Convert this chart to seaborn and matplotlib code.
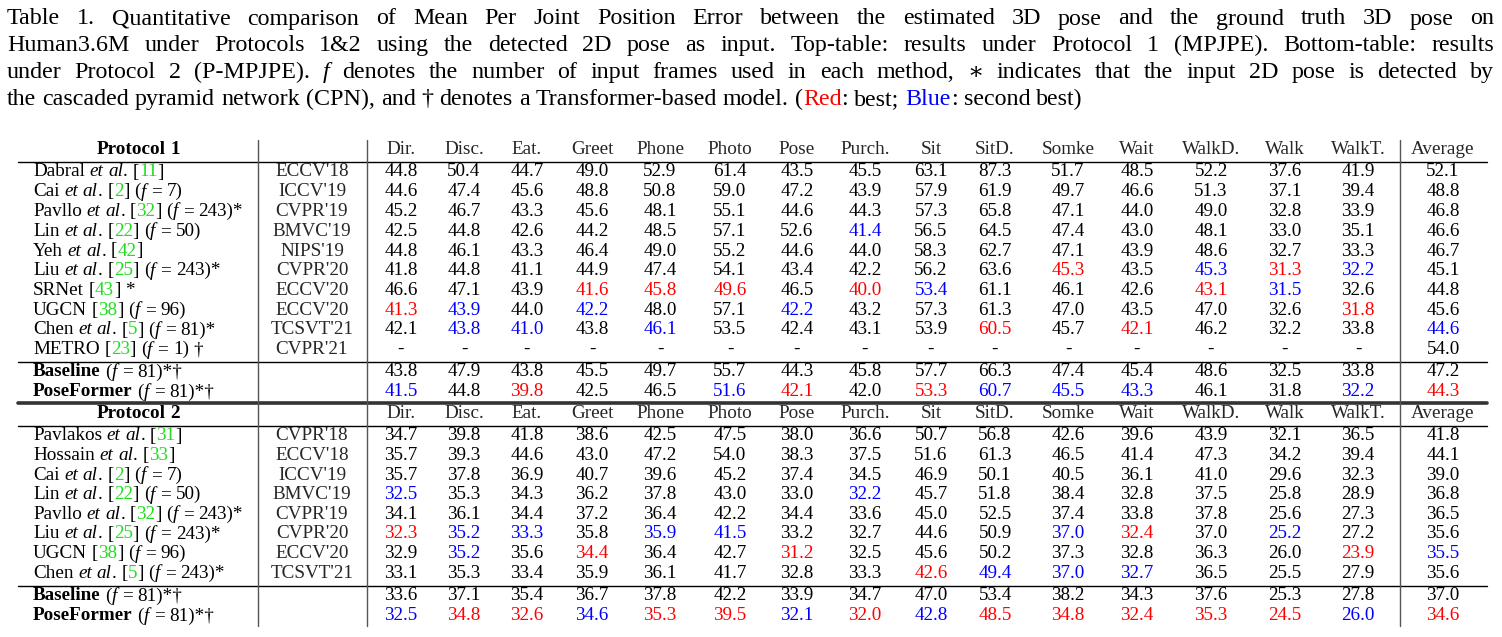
import matplotlib
matplotlib.use("Agg")
import matplotlib.pyplot as plt
import seaborn as sns

sns.set_theme(style="white")
plt.rcParams['font.family'] = ['Liberation Serif', 'DejaVu Serif']
plt.rcParams['mathtext.fontset'] = 'stix'

# ---- data ----
columns = ["Dir.", "Disc.", "Eat.", "Greet", "Phone", "Photo", "Pose", "Purch.", "Sit",
           "SitD.", "Somke", "Wait", "WalkD.", "Walk", "WalkT.", "Average"]

p1_names = ["Dabral |i:et al|. [|g:11|]", "Cai |i:et al|. [|g:2|] (|i:f| = 7)",
            "Pavllo |i:et al|. [|g:32|] (|i:f| = 243)*", "Lin |i:et al|. [|g:22|] (|i:f| = 50)",
            "Yeh |i:et al|. [|g:42|]", "Liu |i:et al|. [|g:25|] (|i:f| = 243)*",
            "SRNet [|g:43|] *", "UGCN [|g:38|] (|i:f| = 96)",
            "Chen |i:et al|. [|g:5|] (|i:f| = 81)*", "METRO [|g:23|] (|i:f| = 1) †",
            "|b:Baseline| (|i:f| = 81)*†", "|b:PoseFormer| (|i:f| = 81)*†"]
p1_venues = ["ECCV'18", "ICCV'19", "CVPR'19", "BMVC'19", "NIPS'19", "CVPR'20", "ECCV'20",
             "ECCV'20", "TCSVT'21", "CVPR'21", "", ""]
p1_values = [
    "44.8 50.4 44.7 49.0 52.9 61.4 43.5 45.5 63.1 87.3 51.7 48.5 52.2 37.6 41.9 52.1",
    "44.6 47.4 45.6 48.8 50.8 59.0 47.2 43.9 57.9 61.9 49.7 46.6 51.3 37.1 39.4 48.8",
    "45.2 46.7 43.3 45.6 48.1 55.1 44.6 44.3 57.3 65.8 47.1 44.0 49.0 32.8 33.9 46.8",
    "42.5 44.8 42.6 44.2 48.5 57.1 52.6 41.4 56.5 64.5 47.4 43.0 48.1 33.0 35.1 46.6",
    "44.8 46.1 43.3 46.4 49.0 55.2 44.6 44.0 58.3 62.7 47.1 43.9 48.6 32.7 33.3 46.7",
    "41.8 44.8 41.1 44.9 47.4 54.1 43.4 42.2 56.2 63.6 45.3 43.5 45.3 31.3 32.2 45.1",
    "46.6 47.1 43.9 41.6 45.8 49.6 46.5 40.0 53.4 61.1 46.1 42.6 43.1 31.5 32.6 44.8",
    "41.3 43.9 44.0 42.2 48.0 57.1 42.2 43.2 57.3 61.3 47.0 43.5 47.0 32.6 31.8 45.6",
    "42.1 43.8 41.0 43.8 46.1 53.5 42.4 43.1 53.9 60.5 45.7 42.1 46.2 32.2 33.8 44.6",
    "- - - - - - - - - - - - - - - 54.0",
    "43.8 47.9 43.8 45.5 49.7 55.7 44.3 45.8 57.7 66.3 47.4 45.4 48.6 32.5 33.8 47.2",
    "41.5 44.8 39.8 42.5 46.5 51.6 42.1 42.0 53.3 60.7 45.5 43.3 46.1 31.8 32.2 44.3",
]
p1_marks = [
    "................", "................", "................", ".......b........",
    "................", "..........r.brb.", "...rrr.rb...rb..", "rb.b..b.......r.",
    ".bb.b....r.r...b", "................", "................", "b.r..br.rbbb..br",
]

p2_names = ["Pavlakos |i:et al|. [|g:31|]", "Hossain |i:et al|. [|g:33|]",
            "Cai |i:et al|. [|g:2|] (|i:f| = 7)", "Lin |i:et al|. [|g:22|] (|i:f| = 50)",
            "Pavllo |i:et al|. [|g:32|] (|i:f| = 243)*", "Liu |i:et al|. [|g:25|] (|i:f| = 243)*",
            "UGCN [|g:38|] (|i:f| = 96)", "Chen |i:et al|. [|g:5|] (|i:f| = 243)*",
            "|b:Baseline| (|i:f| = 81)*†", "|b:PoseFormer| (|i:f| = 81)*†"]
p2_venues = ["CVPR'18", "ECCV'18", "ICCV'19", "BMVC'19", "CVPR'19", "CVPR'20", "ECCV'20",
             "TCSVT'21", "", ""]
p2_values = [
    "34.7 39.8 41.8 38.6 42.5 47.5 38.0 36.6 50.7 56.8 42.6 39.6 43.9 32.1 36.5 41.8",
    "35.7 39.3 44.6 43.0 47.2 54.0 38.3 37.5 51.6 61.3 46.5 41.4 47.3 34.2 39.4 44.1",
    "35.7 37.8 36.9 40.7 39.6 45.2 37.4 34.5 46.9 50.1 40.5 36.1 41.0 29.6 32.3 39.0",
    "32.5 35.3 34.3 36.2 37.8 43.0 33.0 32.2 45.7 51.8 38.4 32.8 37.5 25.8 28.9 36.8",
    "34.1 36.1 34.4 37.2 36.4 42.2 34.4 33.6 45.0 52.5 37.4 33.8 37.8 25.6 27.3 36.5",
    "32.3 35.2 33.3 35.8 35.9 41.5 33.2 32.7 44.6 50.9 37.0 32.4 37.0 25.2 27.2 35.6",
    "32.9 35.2 35.6 34.4 36.4 42.7 31.2 32.5 45.6 50.2 37.3 32.8 36.3 26.0 23.9 35.5",
    "33.1 35.3 33.4 35.9 36.1 41.7 32.8 33.3 42.6 49.4 37.0 32.7 36.5 25.5 27.9 35.6",
    "33.6 37.1 35.4 36.7 37.8 42.2 33.9 34.7 47.0 53.4 38.2 34.3 37.6 25.3 27.8 37.0",
    "32.5 34.8 32.6 34.6 35.3 39.5 32.1 32.0 42.8 48.5 34.8 32.4 35.3 24.5 26.0 34.6",
]
p2_marks = [
    "................", "................", "................", "b......b........",
    "................", "rbb.bb....br.b..", ".b.r..r.......rb", "........rbbb....",
    "................", "brrbrrbrbrrrrrbr",
]

caption = [
    [("Table 1. Quantitative comparison of Mean Per Joint Position Error between the estimated 3D pose and the ground truth 3D pose on", "n")],
    [("Human3.6M under Protocols 1&2 using the detected 2D pose as input. Top-table: results under Protocol 1 (MPJPE). Bottom-table: results", "n")],
    [("under Protocol 2 (P-MPJPE). ", "n"), ("f", "i"), (" denotes the number of input frames used in each method, ∗ indicates that the input 2D pose is detected by", "n")],
    [("the cascaded pyramid network (CPN), and † denotes a Transformer-based model. (", "n"), ("Red", "r"),
     (": best; ", "n"), ("Blue", "b"), (": second best)", "n")],
]

# ---- layout ----
W, H = 1502, 637
fig = plt.figure(figsize=(W / 100, H / 100), dpi=100)
ax = fig.add_axes([0, 0, 1, 1])
ax.set_xlim(0, W)
ax.set_ylim(H, 0)
ax.axis("off")
renderer = fig.canvas.get_renderer()

COLORS = {"n": "black", "i": "black", "r": "#ff0000", "b": "#0000ff", "g": "#22dd22", "B": "black"}
FS_CAP, FS_TAB = 17.3, 13.8


def style_kw(st):
    return dict(color=COLORS.get(st, "black"),
                style="italic" if st == "i" else "normal",
                weight="bold" if st == "B" else "normal")


def width(s, st, fs):
    t = ax.text(0, 0, s, fontsize=fs, **style_kw(st))
    w = t.get_window_extent(renderer).width
    t.remove()
    return w


def space_w(fs):
    return width("a a", "n", fs) - width("aa", "n", fs)


def draw_runs(x, y, runs, fs, ha="left"):
    sw = space_w(fs)
    parts = []
    for txt, st in runs:
        pieces = txt.split(" ")
        for k, p in enumerate(pieces):
            if k > 0:
                parts.append((None, st))
            if p:
                parts.append((p, st))
    total = sum(sw if p is None else width(p, st, fs) for p, st in parts)
    if ha == "center":
        x -= total / 2
    for p, st in parts:
        if p is None:
            x += sw
            continue
        ax.text(x, y, p, fontsize=fs, va="center", ha="left", **style_kw(st))
        x += width(p, st, fs)


def parse_name(s):
    runs = []
    for seg in s.split("|"):
        if seg.startswith("i:"):
            runs.append((seg[2:], "i"))
        elif seg.startswith("g:"):
            runs.append((seg[2:], "g"))
        elif seg.startswith("b:"):
            runs.append((seg[2:], "B"))
        elif seg:
            runs.append((seg, "n"))
    return runs


# caption, justified
x0, x1 = 7, 1494
for li, runs in enumerate(caption):
    y = 19 + li * 26.8
    words = []
    cur = []
    for txt, st in runs:
        pieces = txt.split(" ")
        for k, p in enumerate(pieces):
            if k > 0 and cur:
                words.append(cur)
                cur = []
            if p:
                cur.append((p, st))
    if cur:
        words.append(cur)
    wid = [sum(width(p, st, FS_CAP) for p, st in wd) for wd in words]
    if li < 3:
        gap = (x1 - x0 - sum(wid)) / (len(words) - 1)
    else:
        gap = space_w(FS_CAP)
    x = x0
    for wd, ww in zip(words, wid):
        xx = x
        for p, st in wd:
            ax.text(xx, y, p, fontsize=FS_CAP, va="center", **style_kw(st))
            xx += width(p, st, FS_CAP)
        x += ww + gap

# table columns
col_x = [401, 464, 527, 592, 660, 730, 797, 865, 931, 995, 1068, 1137, 1211, 1285, 1358, 1443]
name_x, venue_x, proto_x = 33, 312, 138
left, right = 18, 1487


def draw_header(y, label):
    draw_runs(proto_x, y, [(label, "B")], FS_TAB, ha="center")
    for cx, c in zip(col_x, columns):
        ax.text(cx, y, c, fontsize=FS_TAB, ha="center", va="center")


def draw_rows(ys, names, venues, values, marks):
    for y, nm, vn, vals, mk in zip(ys, names, venues, values, marks):
        draw_runs(name_x, y, parse_name(nm), FS_TAB)
        ax.text(venue_x, y, vn, fontsize=FS_TAB, ha="center", va="center")
        for cx, v, m in zip(col_x, vals.split(), mk):
            ax.text(cx, y, v, fontsize=FS_TAB, ha="center", va="center",
                    color=COLORS["r"] if m == "r" else COLORS["b"] if m == "b" else "black")


step = 19.75
draw_header(150, "Protocol 1")
ys1 = [172 + i * step for i in range(10)] + [372, 392]
draw_rows(ys1, p1_names, p1_venues, p1_values, p1_marks)

draw_header(414, "Protocol 2")
ys2 = [436 + i * 19.6 for i in range(8)] + [596, 616]
draw_rows(ys2, p2_names, p2_venues, p2_values, p2_marks)

# rules
for y, lw in [(162, 1.0), (362, 1.0), (426, 1.0), (586, 1.0)]:
    ax.plot([left, right], [y, y], color="black", lw=lw)
ax.plot([left, right], [402.5, 402.5], color="#333333", lw=2.6)
for vx in [258, 367, 1400]:
    ax.plot([vx, vx], [140, 626], color="#555555", lw=1.0)

fig.savefig("out.png", dpi=100)
